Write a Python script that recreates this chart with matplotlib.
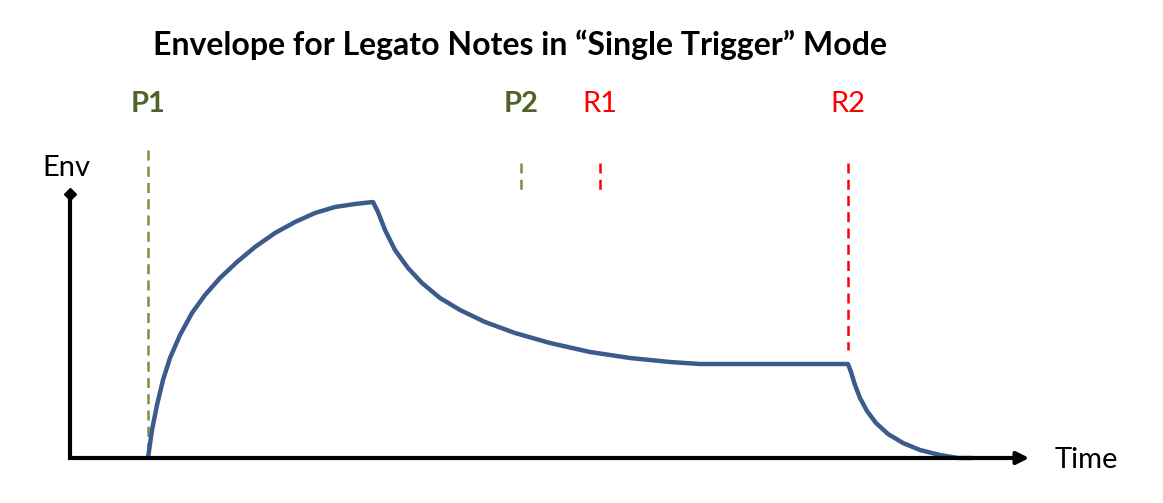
import matplotlib
matplotlib.use("Agg")
import matplotlib.pyplot as plt

# Envelope curve (pixel-space units; y grows downward)
env_t = [148,152,157,163,170,180,192,205,220,237,255,275,295,315,335,355,373,
         378,385,395,408,422,440,460,485,515,550,590,630,670,700,848,
         851,855,860,867,876,888,903,920,940,958,972]
env_v = [458,430,405,380,358,335,313,295,278,262,247,233,222,213,207,204,202,
         212,230,250,268,283,298,310,322,333,343,352,358,362,364,364,
         372,385,398,411,423,434,443,450,455,458,458]

markers = ["P1", "P2", "R1", "R2"]
marker_x = [148, 521, 600, 848]
marker_top = [150, 163, 163, 163]
marker_bot = [458, 192, 192, 350]
marker_col = ["#76923c", "#76923c", "#ff0000", "#ff0000"]
label_col = ["#4f6228", "#4f6228", "#ff0000", "#ff0000"]
label_bold = [True, True, False, False]

plt.rcParams['font.family'] = ['Lato', 'DejaVu Sans']
fig = plt.figure(figsize=(11.63, 5.03), dpi=100)
ax = fig.add_axes([0, 0, 1, 1])
ax.set_xlim(0, 1163)
ax.set_ylim(503, 0)
ax.axis("off")

ax.annotate("", xy=(1032, 458), xytext=(70, 458),
            arrowprops=dict(arrowstyle="-|>", lw=3, color="black", mutation_scale=18))
ax.plot([70, 70], [458, 198], color="black", lw=3)
ax.plot([70], [194], marker="D", color="black", ms=6)

for name, x, t, b, c, lc, bold in zip(markers, marker_x, marker_top, marker_bot,
                                      marker_col, label_col, label_bold):
    ax.plot([x, x], [t, b], color=c, lw=1.8, ls=(0, (4, 2.5)))
    ax.text(x, 104, name, color=lc, fontsize=21, ha="center", va="center",
            fontweight="bold" if bold else "normal")

ax.plot(env_t, env_v, color="#3b5b8c", lw=3.2, solid_capstyle="round",
        solid_joinstyle="round")

ax.text(520, 45, "Envelope for Legato Notes in \u201cSingle Trigger\u201d Mode",
        fontsize=23, fontweight="bold", ha="center", va="center")
ax.text(66, 168, "Env", fontsize=21, ha="center", va="center")
ax.text(1086, 460, "Time", fontsize=21, ha="center", va="center")

fig.savefig("out.png", dpi=100)
